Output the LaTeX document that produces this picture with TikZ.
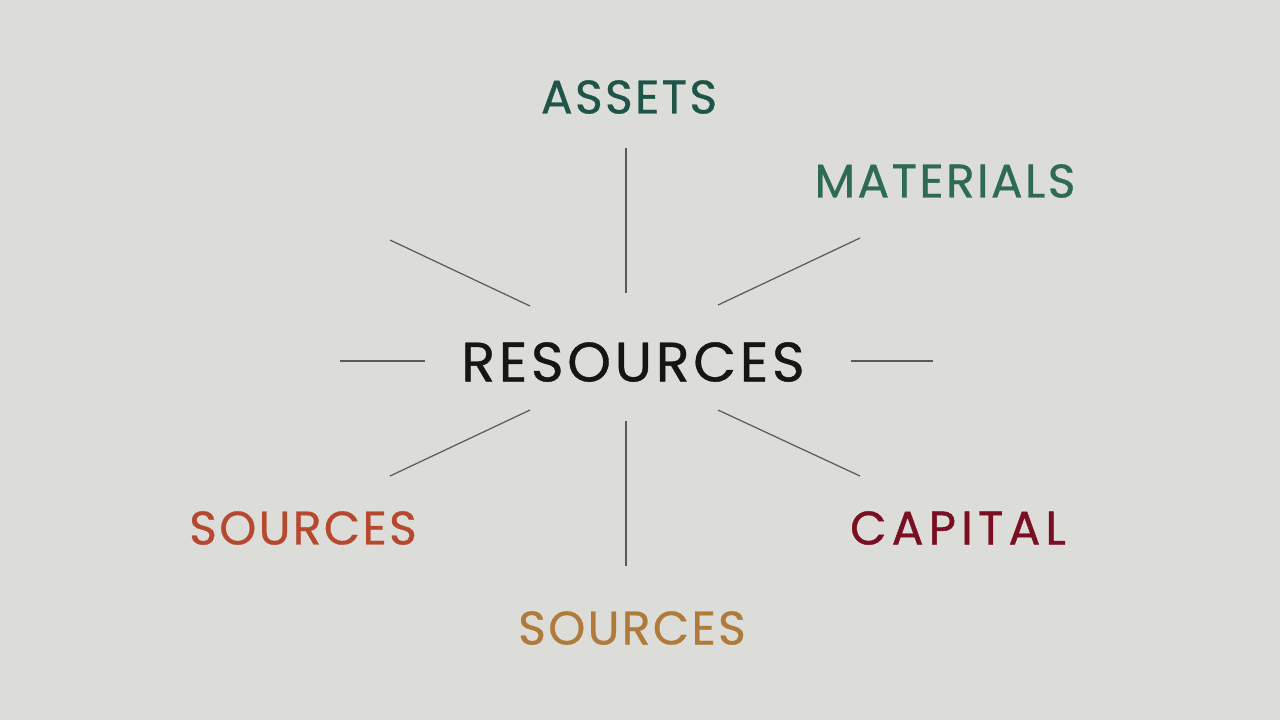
\documentclass[tikz,border=0pt]{standalone}
\usepackage{fontspec}
\setmainfont{Poppins}
\newfontfamily\lsfont[LetterSpace=5.0,FakeBold=0.6]{Poppins}
\newfontfamily\lsbig[LetterSpace=6.6,FakeBold=0.7]{Poppins}
\newfontfamily\lscap[LetterSpace=11.0,FakeBold=0.9]{Poppins}
\definecolor{bg}{HTML}{DCDDD8}
\definecolor{cassets}{HTML}{1F5448}
\definecolor{cmat}{HTML}{2E6A55}
\definecolor{cres}{HTML}{151515}
\definecolor{csrcl}{HTML}{B5482E}
\definecolor{ccap}{HTML}{7A0E22}
\definecolor{csrcb}{HTML}{B07A3A}
\definecolor{cline}{HTML}{5A5A5A}
\tikzset{
  lbl/.style={inner sep=0pt, font=\lsfont\fontsize{13.4}{14}\selectfont},
  caplbl/.style={inner sep=0pt, font=\lscap\fontsize{13.4}{14}\selectfont},
  big/.style={inner sep=0pt, font=\lsbig\fontsize{15.8}{17}\selectfont},
  spoke/.style={draw=cline, line width=0.35pt}
}
\begin{document}
\begin{tikzpicture}[x=0.01cm,y=-0.01cm]
\fill[bg] (0,0) rectangle (1280,720);
\useasboundingbox (0,0) rectangle (1280,720);
\node[big, text=cres] (res) at (633,362) {RESOURCES};
\node[lbl, text=cassets] (assets) at (629,97) {ASSETS};
\node[lbl, text=cmat] (mat) at (945,181) {MATERIALS};
\node[lbl, text=csrcl] (srcl) at (303,528) {SOURCES};
\node[caplbl, text=ccap] (cap) at (958,528) {CAPITAL};
\node[lbl, text=csrcb] (srcb) at (632,628) {SOURCES};
\coordinate (t1) at (626,148); \coordinate (t2) at (626,293);
\coordinate (ul1) at (390,240); \coordinate (ul2) at (530,306);
\coordinate (ur1) at (718,305); \coordinate (ur2) at (860,238);
\coordinate (l1) at (340,361); \coordinate (l2) at (425,361);
\coordinate (r1) at (851,361); \coordinate (r2) at (933,361);
\coordinate (ll1) at (530,410); \coordinate (ll2) at (390,476);
\coordinate (lr1) at (718,410); \coordinate (lr2) at (860,476);
\coordinate (b1) at (626,421); \coordinate (b2) at (626,566);
\draw[spoke] (t1) -- (t2);
\draw[spoke] (ul1) -- (ul2);
\draw[spoke] (ur1) -- (ur2);
\draw[spoke] (l1) -- (l2);
\draw[spoke] (r1) -- (r2);
\draw[spoke] (ll1) -- (ll2);
\draw[spoke] (lr1) -- (lr2);
\draw[spoke] (b1) -- (b2);
\end{tikzpicture}
\end{document}
